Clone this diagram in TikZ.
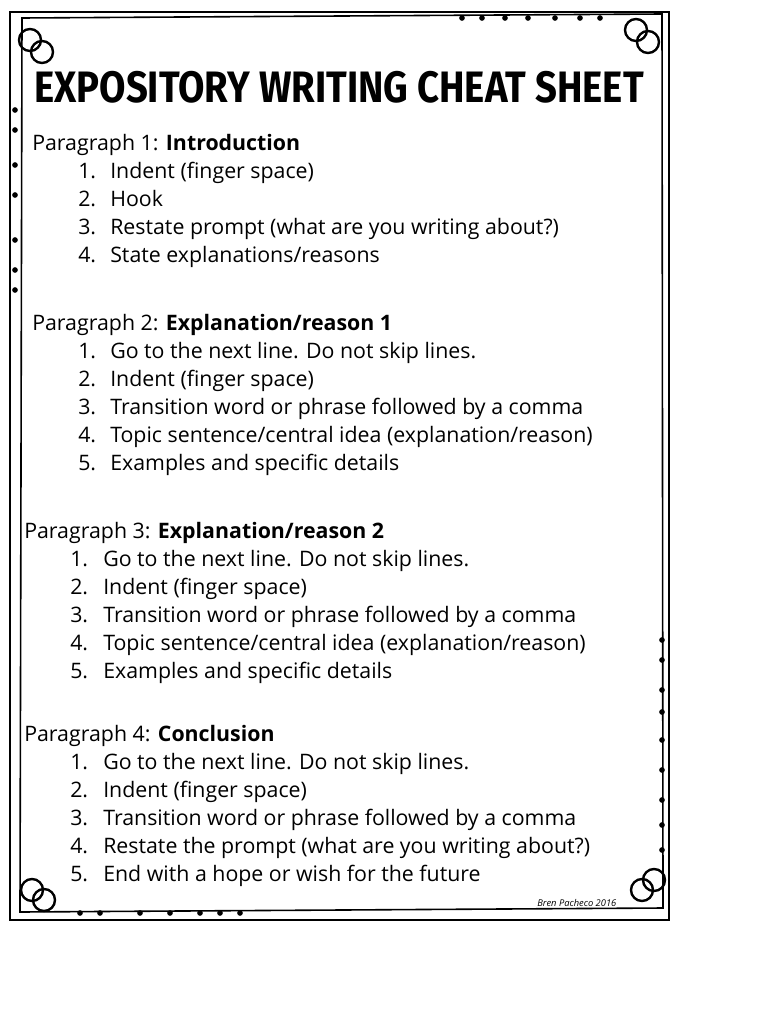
\documentclass[tikz,border=0pt]{standalone}
\usepackage{fontspec}
\setmainfont{Open Sans}
\newfontfamily\titlefont{Fira Sans}
\begin{document}
\begin{tikzpicture}[x=0.75pt,y=-0.75pt,
  txt/.style={anchor=base west,inner sep=0pt,font=\fontsize{16}{18}\selectfont},
  ring/.style={draw,line width=1.8pt},
  dot/.style={fill,circle,inner sep=1.5pt}]
\useasboundingbox (0,0) rectangle (768,1024);
\draw[line width=2pt] (10,12) rectangle (669,920);
\draw[line width=1.2pt] (22,18) -- (662,14) -- (663,908) -- (20,912) -- cycle;
\foreach \c in {(30,40),(42,52),(636,30),(648,42),(32,890),(44,900),(642,890),(654,880)}
  \draw[ring] \c circle (11);
\foreach \y in {110,130,165,195,240,270,290} \node[dot] at (15,\y) {};
\foreach \x in {462,482,505,528,555,580,600} \node[dot] at (\x,18) {};
\foreach \x in {80,100,140,170,200,220,240} \node[dot] at (\x,913) {};
\foreach \y in {640,660,690,712,740,770,800,825,850} \node[dot] at (662,\y) {};
\node[anchor=base west,inner sep=0pt,font=\titlefont\bfseries\fontsize{33}{36}\selectfont,xscale=0.87] (title) at (34,103) {EXPOSITORY WRITING CHEAT SHEET};
\node[txt] (p1) at (32,150) {Paragraph 1: \textbf{Introduction}};
\foreach \n/\t [count=\i] in {1/{Indent (finger space)},2/{Hook},3/{Restate prompt (what are you writing about?)},4/{State explanations/reasons}}{
  \node[txt] at (78,150+28*\i) {\n.};
  \node[txt] at (110,150+28*\i) {\t};}
\node[txt] (p2) at (32,330) {Paragraph 2: \textbf{Explanation/reason 1}};
\foreach \n/\t [count=\i] in {1/{Go to the next line. Do not skip lines.},2/{Indent (finger space)},3/{Transition word or phrase followed by a comma},4/{Topic sentence/central idea (explanation/reason)},5/{Examples and specific details}}{
  \node[txt] at (78,330+28*\i) {\n.};
  \node[txt] at (110,330+28*\i) {\t};}
\node[txt] (p3) at (24,538) {Paragraph 3: \textbf{Explanation/reason 2}};
\foreach \n/\t [count=\i] in {1/{Go to the next line. Do not skip lines.},2/{Indent (finger space)},3/{Transition word or phrase followed by a comma},4/{Topic sentence/central idea (explanation/reason)},5/{Examples and specific details}}{
  \node[txt] at (70,538+28*\i) {\n.};
  \node[txt] at (103,538+28*\i) {\t};}
\node[txt] (p4) at (24,741) {Paragraph 4: \textbf{Conclusion}};
\foreach \n/\t [count=\i] in {1/{Go to the next line. Do not skip lines.},2/{Indent (finger space)},3/{Transition word or phrase followed by a comma},4/{Restate the prompt (what are you writing about?)},5/{End with a hope or wish for the future}}{
  \node[txt] at (70,741+28*\i) {\n.};
  \node[txt] at (103,741+28*\i) {\t};}
\node[anchor=base west,inner sep=0pt,font=\itshape\fontsize{7}{8}\selectfont] (sig) at (537,906) {Bren Pacheco 2016};
\end{tikzpicture}
\end{document}
